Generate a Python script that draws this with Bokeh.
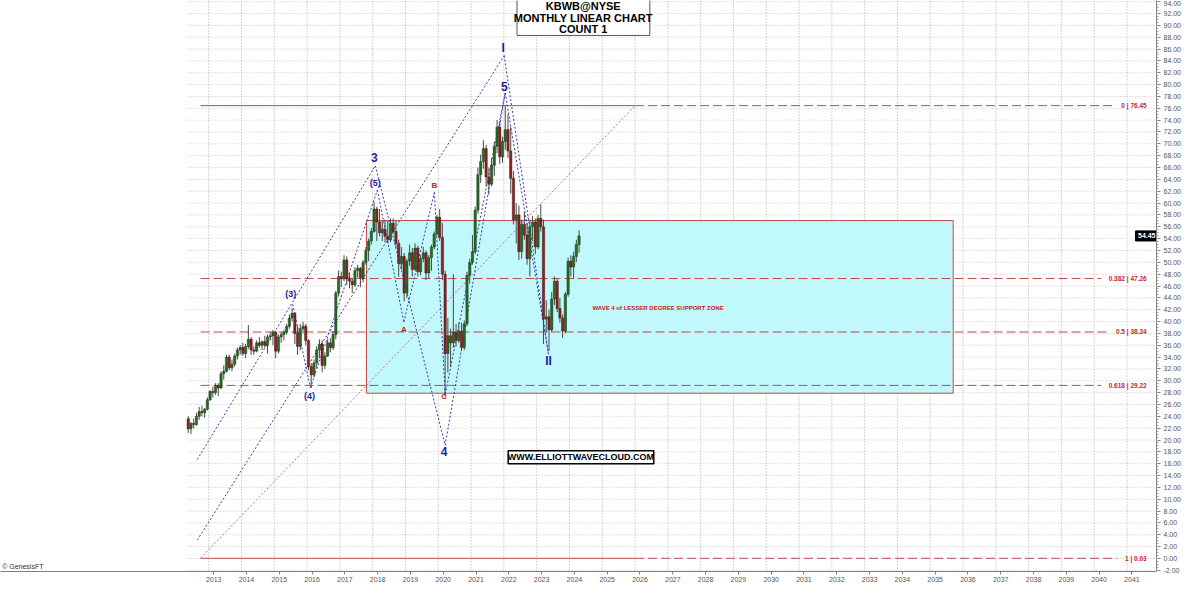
import pandas as pd
from bokeh.plotting import figure
from bokeh.models import (LinearAxis, FixedTicker, NumeralTickFormatter, Range1d,
                          CustomJSTickFormatter)
from bokeh.core.properties import value
from bokeh.embed import file_html
from bokeh.resources import INLINE

# ---------------- data ----------------
months = [str(p) for p in pd.period_range("2012-05", "2024-04", freq="M")]

opens = [23.6, 21.9, 22.8, 22.6, 24.0, 24.8, 24.6, 25.2,
         26.8, 28.2, 28.0, 29.2, 28.8, 31.2, 31.6, 34.0, 32.2, 32.8, 34.2, 35.2,
         35.6, 34.6, 35.8, 37.0, 35.2, 35.0, 36.4, 36.0, 36.6, 36.0, 37.4, 37.6,
         38.2, 35.0, 37.4, 37.8, 38.2, 39.2, 40.6, 41.4, 38.0, 35.8, 38.8, 39.2,
         36.8, 32.4, 31.0, 33.0, 35.2, 36.2, 32.6, 34.2, 36.4, 35.6, 37.8, 44.8,
         47.6, 47.2, 50.4, 47.2, 46.8, 46.2, 48.6, 49.0, 47.4, 50.0, 52.0, 53.6,
         55.2, 59.0, 56.8, 55.0, 55.6, 54.4, 53.8, 56.6, 55.2, 53.2, 49.8, 51.0,
         44.8, 50.2, 51.6, 48.8, 52.4, 48.4, 50.6, 51.6, 48.2, 50.8, 52.6, 54.8,
         57.6, 54.2, 48.0, 34.6, 37.6, 36.4, 38.2, 36.8, 38.4, 35.6, 39.6, 47.8,
         50.0, 51.8, 58.8, 64.8, 67.0, 69.2, 64.4, 63.2, 66.4, 69.6, 72.8, 67.8,
         70.4, 72.4, 68.8, 64.2, 57.2, 58.0, 51.8, 56.4, 54.6, 50.6, 56.0, 56.8,
         52.6, 57.4, 56.0, 40.4, 40.8, 38.6, 43.8, 46.8, 42.2, 40.6, 38.4, 44.6,
         50.2, 49.2, 51.0, 53.0]

highs = [24.0, 23.0, 23.6, 24.6, 25.6, 25.8, 25.4, 27.2,
         28.4, 29.0, 29.6, 29.6, 31.6, 32.6, 34.4, 34.4, 33.6, 34.6, 35.6, 36.0,
         36.4, 36.2, 39.4, 37.4, 35.8, 36.8, 37.4, 36.8, 37.6, 37.8, 38.2, 38.6,
         38.4, 37.8, 38.2, 38.6, 39.6, 41.2, 42.3, 41.6, 39.4, 39.6, 40.0, 39.6,
         37.0, 33.0, 33.6, 35.8, 37.0, 36.8, 34.8, 37.0, 37.2, 38.4, 45.2, 48.6,
         48.4, 51.2, 51.0, 48.2, 47.4, 49.2, 49.6, 49.2, 50.4, 52.6, 54.0, 55.8,
         60.2, 59.4, 59.0, 57.0, 57.2, 57.0, 57.4, 57.4, 57.0, 53.8, 52.6, 51.6,
         50.6, 53.0, 52.4, 53.2, 52.8, 51.2, 52.6, 52.0, 51.2, 53.0, 55.2, 58.0,
         59.0, 56.6, 48.6, 40.6, 38.8, 48.0, 39.6, 39.8, 39.8, 40.2, 48.4, 50.6,
         54.6, 59.4, 66.0, 68.2, 70.6, 69.8, 66.0, 67.6, 70.4, 74.0, 73.8, 71.2,
         76.45, 75.0, 72.8, 65.4, 60.0, 59.6, 57.2, 58.6, 56.6, 57.2, 57.8, 57.4,
         58.0, 59.8, 57.2, 43.6, 42.0, 45.0, 47.6, 47.2, 44.0, 41.2, 45.0, 50.8,
         51.2, 51.8, 53.8, 55.4]

lows = [21.2, 21.0, 22.0, 22.4, 23.4, 24.0, 23.8, 25.0,
        26.6, 27.2, 27.6, 27.4, 28.6, 30.2, 31.4, 31.8, 31.6, 32.4, 33.6, 34.4,
        34.2, 33.8, 35.4, 34.4, 34.4, 34.8, 35.6, 35.2, 35.6, 34.6, 36.8, 36.0,
        33.8, 34.6, 36.4, 36.8, 37.8, 38.8, 40.0, 36.2, 34.4, 35.2, 38.0, 36.0,
        31.8, 28.8, 30.6, 32.2, 33.8, 31.4, 32.0, 34.0, 34.8, 35.2, 37.0, 44.2,
        45.8, 46.8, 46.2, 45.6, 44.8, 45.8, 47.4, 45.8, 46.6, 49.6, 50.2, 53.0,
        55.0, 53.6, 54.4, 53.6, 53.4, 53.2, 53.4, 54.8, 52.4, 47.6, 48.8, 43.4,
        44.0, 49.4, 47.6, 48.6, 47.6, 47.8, 50.0, 47.0, 47.2, 48.6, 52.2, 54.4,
        53.6, 47.0, 27.2, 31.4, 32.4, 35.6, 35.8, 36.4, 35.0, 35.2, 39.2, 46.4,
        49.6, 51.4, 58.2, 63.4, 65.8, 62.8, 61.4, 62.8, 64.6, 68.4, 66.6, 66.8,
        69.0, 67.6, 61.6, 56.4, 53.2, 50.4, 50.6, 53.8, 49.6, 47.6, 53.6, 51.4,
        52.2, 55.2, 36.2, 38.2, 35.0, 38.2, 42.8, 41.6, 39.8, 37.2, 38.0, 44.2,
        47.6, 47.2, 50.0, 51.6]

closes = [21.9, 22.8, 22.6, 24.0, 24.8, 24.6, 25.2, 26.8,
          28.2, 28.0, 29.2, 28.8, 31.2, 31.6, 34.0, 32.2, 32.8, 34.2, 35.2, 35.6,
          34.6, 35.8, 37.0, 35.2, 35.0, 36.4, 36.0, 36.6, 36.0, 37.4, 37.6, 38.2,
          35.0, 37.4, 37.8, 38.2, 39.2, 40.6, 41.4, 38.0, 35.8, 38.8, 39.2, 36.8,
          32.4, 31.0, 33.0, 35.2, 36.2, 32.6, 34.2, 36.4, 35.6, 37.8, 44.8, 47.6,
          47.2, 50.4, 47.2, 46.8, 46.2, 48.6, 49.0, 47.4, 50.0, 52.0, 53.6, 55.2,
          59.0, 56.8, 55.0, 55.6, 54.4, 53.8, 56.6, 55.2, 53.2, 49.8, 51.0, 44.8,
          50.2, 51.6, 48.8, 52.4, 48.4, 50.6, 51.6, 48.2, 50.8, 52.6, 54.8, 57.6,
          54.2, 48.0, 34.6, 37.6, 36.4, 38.2, 36.8, 38.4, 35.6, 39.6, 47.8, 50.0,
          51.8, 58.8, 64.8, 67.0, 69.2, 64.4, 63.2, 66.4, 69.6, 72.8, 67.8, 70.4,
          72.4, 68.8, 64.2, 57.2, 58.0, 51.8, 56.4, 54.6, 50.6, 56.0, 56.8, 52.6,
          57.4, 56.0, 40.4, 40.8, 38.6, 43.8, 46.8, 42.2, 40.6, 38.4, 44.6, 50.2,
          49.2, 51.0, 53.0, 54.45]

fib_ratios = ["0", "0.382", "0.5", "0.618", "1"]
fib_prices = [76.45, 47.26, 38.24, 29.22, 0.03]

year_ticks = list(range(2013, 2042))
price_ticks = list(range(-2, 95, 2))

# Elliott-wave pivot points (year, price)
wave_pts = {
    "s1": (2012.65, 16.7), "s2": (2012.65, 3.1),
    "(3)": (2015.56, 42.9), "(4)": (2016.10, 28.8), "(5)": (2018.14, 62.2),
    "3": (2018.08, 66.3), "A": (2018.95, 39.9), "B": (2019.88, 61.8),
    "C": (2020.21, 27.7), "4": (2020.21, 19.1), "5": (2022.04, 78.6),
    "I": (2022.01, 84.9), "II": (2023.36, 34.5),
}
wave_links = [("s1", "3"), ("s2", "I"), ("(3)", "(4)"), ("(4)", "(5)"),
              ("(5)", "A"), ("3", "4"), ("A", "B"), ("B", "C"), ("C", "5"),
              ("4", "5"), ("5", "II"), ("I", "II")]

blue_labels = ["(3)", "(4)", "(5)", "3", "4", "5", "I", "II"]
blue_lab_x = [2015.50, 2016.07, 2018.08, 2018.05, 2020.18, 2022.01, 2021.98, 2023.36]
blue_lab_y = [44.7, 27.4, 63.4, 67.7, 18.0, 79.7, 86.1, 33.4]
red_labels = ["A", "B", "C"]
red_lab_x = [2018.95, 2019.88, 2020.18]
red_lab_y = [38.7, 62.9, 27.4]

title_lines = ["KBWB@NYSE", "MONTHLY LINEAR CHART", "COUNT 1"]

zone = dict(left=2017.81, right=2035.7, top=57.05, bottom=27.9)

# ---------------- figure ----------------
X0, X1 = 2006.65, 2041.9
Y0, Y1 = -2.2, 94.2
p = figure(width=1184, height=584, x_range=Range1d(X0, X1), y_range=Range1d(Y0, Y1),
           output_backend="svg", toolbar_location=None,
           x_axis_location=None, y_axis_location=None,
           min_border_left=0, min_border_top=0, min_border_right=0, min_border_bottom=0)
p.grid.visible = False
p.outline_line_color = None
p.background_fill_color = "white"
p.border_fill_color = "white"

FONT = value("Liberation Sans")
px_per_year = 1158 / (X1 - X0)

# grid
GRID_START = 2012.35
p.segment(x0=[GRID_START] * len(price_ticks), x1=[X1] * len(price_ticks),
          y0=price_ticks, y1=price_ticks, line_color="#c4c4c4", line_dash="1 2", line_width=1)
p.segment(x0=year_ticks, x1=year_ticks, y0=[Y0] * len(year_ticks), y1=[Y1] * len(year_ticks),
          line_color="#a8a8a8", line_dash="1 2", line_width=1)

# support zone
p.quad(left=[zone["left"]], right=[zone["right"]], top=[zone["top"]], bottom=[zone["bottom"]],
       fill_color="#c0f8fb", line_color="#c04a4a", line_width=1)

# fib lines
FIB_START, SOLID_END, LAB_X = 2012.75, 2026.0, 2041.6
for r, v in zip(fib_ratios, fib_prices):
    lab = f"{r} | {v:.2f}"
    end = LAB_X - (len(lab) * 3.2 + 4) / px_per_year
    if r in ("0", "1"):
        p.line([FIB_START, SOLID_END], [v, v], line_color="#bf4a4a", line_width=1)
        p.line([SOLID_END, end], [v, v], line_color="#bf4a4a", line_width=1, line_dash="9 4")
    else:
        p.line([FIB_START, end], [v, v], line_color="#bf4a4a", line_width=1, line_dash="9 4")
    p.text(x=[LAB_X], y=[v], text=[lab], text_align="right", text_baseline="middle",
           text_font=FONT, text_font_style="bold", text_font_size="6.5px", text_color="#c02a2a")

# pink diagonal from level 1 to level 0
p.line([FIB_START, SOLID_END], [fib_prices[-1], fib_prices[0]], line_color="#c07080",
       line_dash="2 2", line_width=1)

# blue wave lines
for a, b in wave_links:
    (xa, ya), (xb, yb) = wave_pts[a], wave_pts[b]
    p.line([xa, xb], [ya, yb], line_color="#3a3aa8", line_dash="2 2", line_width=1)

# candles
t = [int(m[:4]) + (int(m[5:7]) - 0.5) / 12 for m in months]
up = [c >= o for o, c in zip(opens, closes)]
p.segment(x0=t, x1=t, y0=lows, y1=highs, line_color="#4a4a4a", line_width=1)
ux = [x for x, u in zip(t, up) if u]
dx = [x for x, u in zip(t, up) if not u]
p.vbar(x=ux, width=0.07,
       top=[c for c, u in zip(closes, up) if u], bottom=[o for o, u in zip(opens, up) if u],
       fill_color="#236b23", line_color="#1a3d1a", line_width=0.5)
p.vbar(x=dx, width=0.07,
       top=[o for o, u in zip(opens, up) if not u], bottom=[c for c, u in zip(closes, up) if not u],
       fill_color="#8a2222", line_color="#4d1414", line_width=0.5)

# wave labels
p.text(x=blue_lab_x[:3], y=blue_lab_y[:3], text=blue_labels[:3], text_align="center",
       text_baseline="middle", text_font=FONT, text_font_style="bold", text_font_size="9px",
       text_color="#22229c")
p.text(x=blue_lab_x[3:], y=blue_lab_y[3:], text=blue_labels[3:], text_align="center",
       text_baseline="middle", text_font=FONT, text_font_style="bold", text_font_size="12px",
       text_color="#22229c")
p.text(x=red_lab_x, y=red_lab_y, text=red_labels, text_align="center", text_baseline="middle",
       text_font=FONT, text_font_style="bold", text_font_size="8px", text_color="#c42020")

# zone text
p.text(x=[2026.7], y=[42.3], text=["WAVE 4 of LESSER DEGREE SUPPORT ZONE"], text_align="center",
       text_baseline="middle", text_font=FONT, text_font_style="bold", text_font_size="6px",
       text_color="#c42020")

# title box
p.quad(left=[2022.4], right=[2026.45], top=[97.0], bottom=[88.3], fill_color="white",
       line_color="#555555", line_width=1)
p.text(x=[2024.42] * 3, y=[93.2, 91.3, 89.4], text=title_lines, text_align="center",
       text_baseline="middle", text_font=FONT, text_font_style="bold", text_font_size="11px",
       text_color="black")

# website box
p.quad(left=[2022.13], right=[2026.57], top=[18.2], bottom=[16.0], fill_color="white",
       line_color="black", line_width=1.5)
p.text(x=[2024.35], y=[17.1], text=["WWW.ELLIOTTWAVECLOUD.COM"], text_align="center",
       text_baseline="middle", text_font=FONT, text_font_style="bold", text_font_size="9px",
       text_color="black")

# copyright
p.text(x=[2006.7], y=[-1.95], text=["© GenesisFT"], text_align="left", text_baseline="bottom",
       text_font=FONT, text_font_size="7px", text_color="#333333")

# last price tag (inside frame, against the price axis)
tag = f"{closes[-1]:.2f}"
p.quad(left=[X1 - 21 / px_per_year], right=[X1], top=[closes[-1] + 0.85],
       bottom=[closes[-1] - 0.85], fill_color="black", line_color="black")
p.text(x=[X1], y=[closes[-1]], x_offset=-1, text=[tag], text_align="right",
       text_baseline="middle", text_font=FONT, text_font_style="bold", text_font_size="7px",
       text_color="white")

# axes
yaxis = LinearAxis(ticker=FixedTicker(ticks=price_ticks,
                                      minor_ticks=[v / 2 for v in range(-4, 189)]),
                   formatter=NumeralTickFormatter(format="0.00"),
                   major_label_text_font_size="7px", major_label_text_color="#555555",
                   major_label_text_font="Liberation Sans",
                   axis_line_color="#808080", major_tick_line_color="#808080",
                   minor_tick_line_color="#a0a0a0", major_tick_in=0, major_tick_out=4,
                   minor_tick_in=0, minor_tick_out=2, major_label_standoff=3)
p.add_layout(yaxis, "right")

xaxis = LinearAxis(ticker=FixedTicker(ticks=[y + 0.15 for y in year_ticks]),
                   formatter=CustomJSTickFormatter(code="return String(Math.floor(tick));"),
                   major_label_text_font_size="7px", major_label_text_color="#555555",
                   major_label_text_font="Liberation Sans",
                   axis_line_color="#808080", major_tick_line_color="#808080",
                   major_tick_in=0, major_tick_out=3, minor_tick_line_color=None,
                   major_label_standoff=2)
p.add_layout(xaxis, "below")

open("out.html", "w").write(file_html(p, INLINE))
